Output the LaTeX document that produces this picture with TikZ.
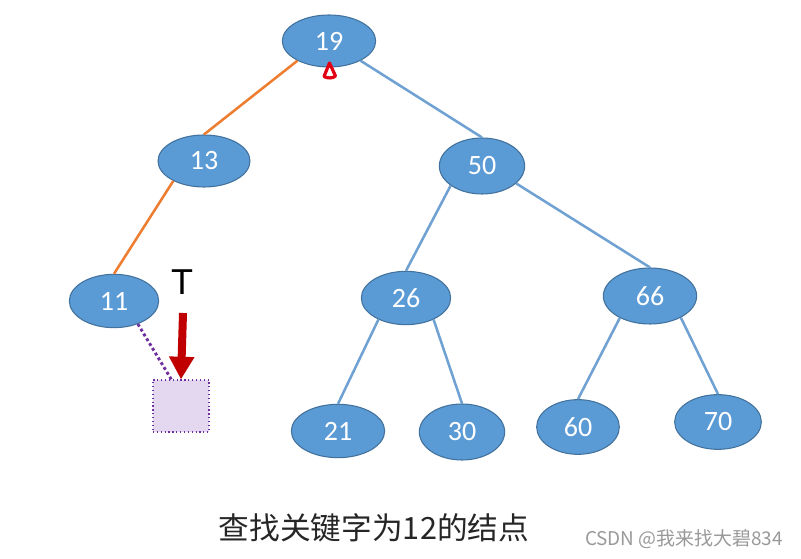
\documentclass[tikz,border=0pt]{standalone}
\usepackage{fontspec}
\setmainfont{Carlito}
\newfontfamily\cjkfont{Noto Sans CJK SC}
\newfontfamily\labelfont{Liberation Sans}
\usetikzlibrary{shapes.geometric,arrows.meta}
\definecolor{keyblue}{RGB}{91,155,213}
\definecolor{keyedge}{RGB}{65,113,156}
\definecolor{pathorange}{RGB}{237,125,49}
\definecolor{linkblue}{RGB}{111,161,210}
\definecolor{darkred}{RGB}{192,0,0}
\definecolor{markred}{RGB}{225,0,20}
\definecolor{lavender}{RGB}{228,215,240}
\definecolor{violet}{RGB}{112,48,160}

\begin{document}
\begin{tikzpicture}[x=0.75pt,y=0.75pt,yscale=-1,xscale=1,
  keynode/.style={ellipse,draw=keyedge,fill=keyblue,line width=0.8pt,text=white,inner sep=0pt,
    minimum width=67pt,minimum height=39pt,font=\fontsize{21}{24}\selectfont},
  searchpath/.style={draw=pathorange,line width=1.9pt},
  treelink/.style={draw=linkblue,line width=1.9pt}]
\useasboundingbox (0,0) rectangle (801,559);

%Shape: Ellipse (keys)
\node [keynode,minimum width=70pt] (n19) at (329,41) {19};
\node [keynode,minimum width=69pt] (n13) at (204,161) {13};
\node [keynode,minimum width=64pt,minimum height=42pt] (n50) at (482,166) {50};
\node [keynode,minimum height=40pt] (n11) at (114,301) {11};
\node [keynode,minimum height=40pt] (n26) at (406,298) {26};
\node [keynode,minimum width=70pt,minimum height=42pt] (n66) at (650,296) {66};
\node [keynode,minimum width=70pt,minimum height=40pt] (n21) at (338,431) {21};
\node [keynode,minimum width=64pt,minimum height=42pt] (n30) at (462,432) {30};
\node [keynode,minimum width=62pt,minimum height=41pt] (n60) at (578,427) {60};
\node [keynode,minimum width=65pt,minimum height=41pt] (n70) at (718,422) {70};

%Straight Lines
\draw [searchpath] (n19.212) -- (n13.north);
\draw [searchpath] (n13.213) -- (n11.north);
\draw [treelink] (n19.328) -- (n50.north);
\draw [treelink] (n50.212) -- (n26.north);
\draw [treelink] (n50.333) -- (n66.north);
\draw [treelink] (n26.218) -- (n21.north);
\draw [treelink] (n26.322) -- (n30.north);
\draw [treelink] (n66.216) -- (n60.north);
\draw [treelink] (n66.325) -- (n70.north);

%Shape: Square (empty place)
\node [draw=violet,fill=lavender,dotted,line width=0.9pt,minimum width=42pt,minimum height=39pt,inner sep=0pt] (slot) at (181,406) {};
\draw [violet,dotted,line width=2.2pt] (n11.316) -- (slot.110);

% Text Node
\node [font=\labelfont\fontsize{27}{30}\selectfont,inner sep=0pt] (T) at (182,282) {T};
\coordinate (Ttip) at (183,313);
\draw [darkred,line width=6pt,-{Triangle[width=18pt,length=17pt]}] (Ttip) -- (slot.north);

%Shape: mark under root
\draw [markred,line width=2.4pt,line join=round] (329.5,63) -- (324,76.5) .. controls (327,78.5) and (333,78.5) .. (335.5,76) -- cycle;

% Text Node
\node [font=\cjkfont\fontsize{23}{26}\selectfont,text=black!85,inner sep=0pt] (caption) at (374,528) {查找关键字为12的结点};
\node [font=\cjkfont\fontsize{14.2}{17}\selectfont,text=black!40,inner sep=0pt] (credit) at (684,539) {CSDN @我来找大碧834};
\end{tikzpicture}
\end{document}
